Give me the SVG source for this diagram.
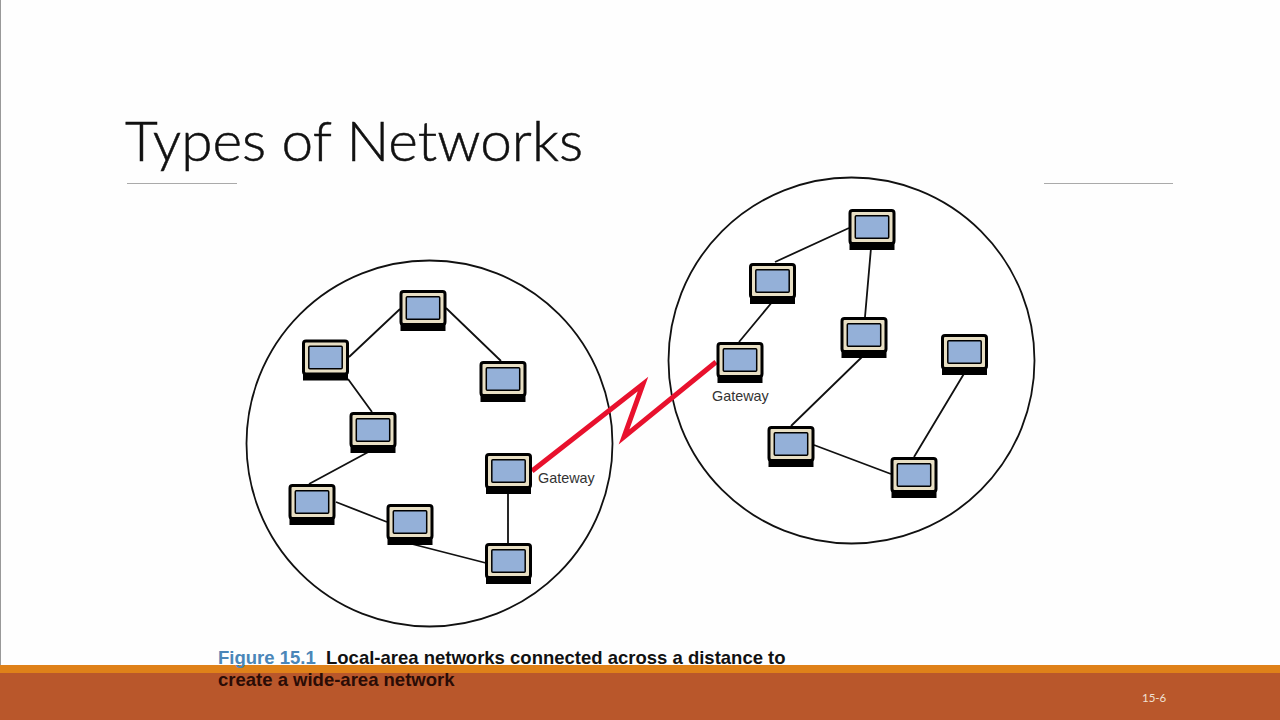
<svg xmlns="http://www.w3.org/2000/svg" xmlns:xlink="http://www.w3.org/1999/xlink" width="1280" height="720" viewBox="0 0 1280 720">
<style>
.wire{fill:none;stroke:#111;stroke-width:1.8}
.lan{fill:#fff;stroke:#111;stroke-width:1.8}
.lbl{font-family:"Liberation Sans",Arial,sans-serif;font-size:14.4px;fill:#333}
.cap{font-family:"Liberation Sans",Arial,sans-serif;font-size:18.5px;font-weight:700;fill:#111}
</style>
<defs>
<g id="pc">
<rect x="-22.500" y="15" width="45" height="8" fill="#000"/>
<rect x="-22" y="-16.500" width="44" height="33" rx="2.500" fill="#e8dfc4" stroke="#000" stroke-width="3"/>
<rect x="-16.700" y="-11.200" width="33.400" height="22.400" rx="1" fill="#94b0d8" stroke="#000" stroke-width="1.500"/>
</g>
</defs>
<rect width="1280" height="720" fill="#fefefe"/>
<rect x="0" y="0" width="1" height="665" fill="#999"/>
<rect x="0" y="665" width="1280" height="8" fill="#df8119"/>
<rect x="0" y="673" width="1280" height="47" fill="#b9572b"/>
<text x="125" y="160.500" font-family="Lato,'Open Sans',sans-serif" font-weight="300" font-size="56" fill="#111" stroke="#111" stroke-width="0.500" textLength="458" lengthAdjust="spacingAndGlyphs">Types of Networks</text>
<path d="M127 183.500H237M1044 183.500H1173" stroke="#aaa" stroke-width="1"/>
<circle class="lan" cx="429.500" cy="443.500" r="183"/>
<circle class="lan" cx="851.500" cy="360.500" r="183"/>
<g id="connectors">
<path class="wire" d="M349 357L400 309M446 308L501 361M348 379L372 412M372 450L309 484M336 502L387 522M408 543L486 563M508 491V544"/>
<path class="wire" d="M849 228L775 262M871 248L865 317M773 301L739 342M864 355L791 426M814 445L891 474M965 372L914 457"/>
<path fill="none" stroke="#e8112d" stroke-width="5" stroke-miterlimit="12" d="M532 471L643 384L624 437L716 362"/>
</g>
<g id="lan1">
<g id="n1"><use xlink:href="#pc" x="423" y="308"/></g>
<g id="n2"><use xlink:href="#pc" x="325.500" y="357.500"/></g>
<g id="n3"><use xlink:href="#pc" x="503" y="379"/></g>
<g id="n4"><use xlink:href="#pc" x="373" y="430"/></g>
<g id="n5"><use xlink:href="#pc" x="508.500" y="471"/></g>
<g id="n6"><use xlink:href="#pc" x="312" y="502"/></g>
<g id="n7"><use xlink:href="#pc" x="410" y="522"/></g>
<g id="n8"><use xlink:href="#pc" x="508.500" y="561"/></g>
</g>
<g id="lan2">
<g id="n9"><use xlink:href="#pc" x="872" y="227"/></g>
<g id="n10"><use xlink:href="#pc" x="772.500" y="281"/></g>
<g id="n11"><use xlink:href="#pc" x="864" y="335"/></g>
<g id="n12"><use xlink:href="#pc" x="964.500" y="352"/></g>
<g id="n13"><use xlink:href="#pc" x="740" y="360"/></g>
<g id="n14"><use xlink:href="#pc" x="791" y="444"/></g>
<g id="n15"><use xlink:href="#pc" x="914" y="475"/></g>
</g>
<text class="lbl" x="538" y="483">Gateway</text>
<text class="lbl" x="712" y="401">Gateway</text>
<text class="cap" x="218" y="664"><tspan fill="#4a86b8">Figure 15.1</tspan><tspan x="326">Local-area networks connected across a distance to</tspan></text>
<text class="cap" x="218" y="686" style="fill:#2a0c06">create a wide-area network</text>
<text x="1142" y="702" font-family="Lato,'Liberation Sans',sans-serif" font-size="11.500" fill="#f0e0d4">15-6</text>
</svg>
